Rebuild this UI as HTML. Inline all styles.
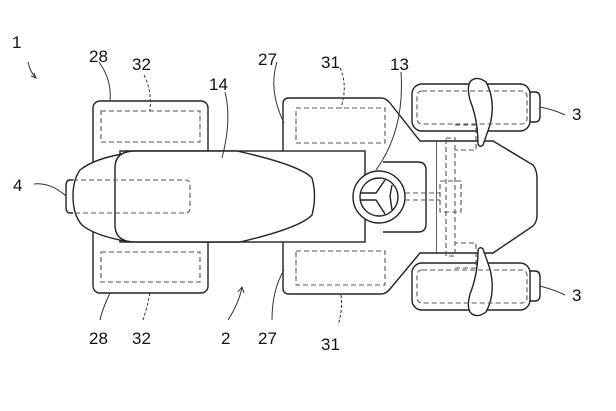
<!DOCTYPE html>
<html><head><style>body{margin:0;background:#fff}svg{display:block}text{font-family:"Liberation Sans",sans-serif;font-size:17px;fill:#111}</style></head><body>
<svg width="616" height="411" viewBox="0 0 616 411" xmlns="http://www.w3.org/2000/svg">
<g fill="none" stroke="#222" stroke-width="1.4">
<rect x="93" y="101" width="115" height="192" rx="7" fill="#fff"/>
<path d="M289 98 L381 98 Q386 98 390 103 L420 141 L437 141 L437 253 L420 253 L390 289 Q386 294 381 294 L289 294 Q283 294 283 288 L283 104 Q283 98 289 98 Z" fill="#fff"/>
<rect x="120" y="151" width="245" height="91" fill="#fff"/>
<path d="M128 153 Q95 158 80 170 Q73 180 73 196 Q73 215 82 225 Q95 236 130 242" fill="#fff"/>
<path d="M135 151 L237 151 Q300 165 312 178 Q317 196 312 215 Q300 228 240 242 L135 242 Q115 242 115 225 L115 168 Q115 151 135 151 Z" fill="#fff"/>
<path d="M73 180 L70 180 Q66 180 66 186 L66 207 Q66 213 70 213 L73 213"/>
<path d="M437 141 L493 141 L533 165 Q537 170 537 178 L537 215 Q537 222 533 226 L493 253 L437 253" fill="#fff"/>
<path d="M383 162 L418 162 Q426 162 426 170 L426 224 Q426 232 418 232 L383 232"/>
<circle cx="379" cy="197" r="26" fill="#fff"/>
<circle cx="379" cy="197" r="19"/>
<path d="M360 193 L376 193 L385 180 M360 200 L376 200 L385 214 M392 185 L390 196 L392 210"/>
<rect x="412" y="84" width="118" height="47" rx="10" fill="#fff"/>
<path d="M530 92 L535 92 Q540 92 540 98 L540 116 Q540 122 535 122 L530 122"/>
<rect x="412" y="263" width="118" height="47" rx="10" fill="#fff"/>
<path d="M530 271 L535 271 Q540 271 540 277 L540 295 Q540 301 535 301 L530 301"/>
<path d="M472 80 Q478 76 486 82 Q496 100 490 125 L483 145 Q480 148 478 144 Q478 120 470 100 Q466 84 472 80 Z" fill="#fff"/>
<path d="M472 314 Q478 318 486 312 Q496 294 490 269 L483 249 Q480 246 478 250 Q478 274 470 294 Q466 310 472 314 Z" fill="#fff"/>
</g>
<g fill="none" stroke="#555" stroke-width="1.1" stroke-dasharray="5,3">
<rect x="101" y="111" width="99" height="31"/>
<rect x="101" y="252" width="99" height="30"/>
<rect x="296" y="108" width="89" height="35"/>
<rect x="296" y="251" width="89" height="34"/>
<path d="M73 180 L185 180 Q190 180 190 185 L190 208 Q190 213 185 213 L73 213"/>
<rect x="417" y="91" width="110" height="33" rx="5"/>
<rect x="417" y="270" width="110" height="33" rx="5"/>
<rect x="446" y="138" width="9" height="118"/>
<rect x="440" y="181" width="21" height="31"/>
<path d="M405 193 L440 193 M405 200 L440 200"/>
<path d="M455 125 L476 125 L476 150 L455 150 M455 268 L476 268 L476 243 L455 243"/>
</g>
<g fill="none" stroke="#333" stroke-width="1">
<path d="M28 62 Q30 72 36 78"/><path d="M31 76 L36 78 L34 73"/>
<path d="M99 62 Q112 80 110 101"/>
<path d="M144 75 Q152 90 150 111" stroke-dasharray="3,2"/>
<path d="M225 92 Q232 120 222 158"/>
<path d="M277 62 Q268 90 284 123"/>
<path d="M340 68 Q348 85 341 108" stroke-dasharray="3,2"/>
<path d="M401 72 Q405 130 376 170"/>
<path d="M34 184 Q50 182 66 196"/>
<path d="M540 107 Q555 110 565 115"/>
<path d="M540 286 Q555 290 565 295"/>
<path d="M110 293 Q102 310 100 320"/>
<path d="M150 293 Q147 308 143 320" stroke-dasharray="3,2"/>
<path d="M228 320 Q238 305 242 288"/><path d="M238 292 L242 287 L244 293"/>
<path d="M284 270 Q272 290 272 320"/>
<path d="M341 295 Q343 310 338 325" stroke-dasharray="3,2"/>
</g>
<text x="12" y="48">1</text>
<text x="89" y="62">28</text>
<text x="132" y="70">32</text>
<text x="209" y="90">14</text>
<text x="258" y="65">27</text>
<text x="321" y="68">31</text>
<text x="390" y="70">13</text>
<text x="13" y="191">4</text>
<text x="572" y="120">3</text>
<text x="572" y="301">3</text>
<text x="89" y="344">28</text>
<text x="132" y="344">32</text>
<text x="221" y="344">2</text>
<text x="258" y="344">27</text>
<text x="321" y="350">31</text>
</svg>
</body></html>
